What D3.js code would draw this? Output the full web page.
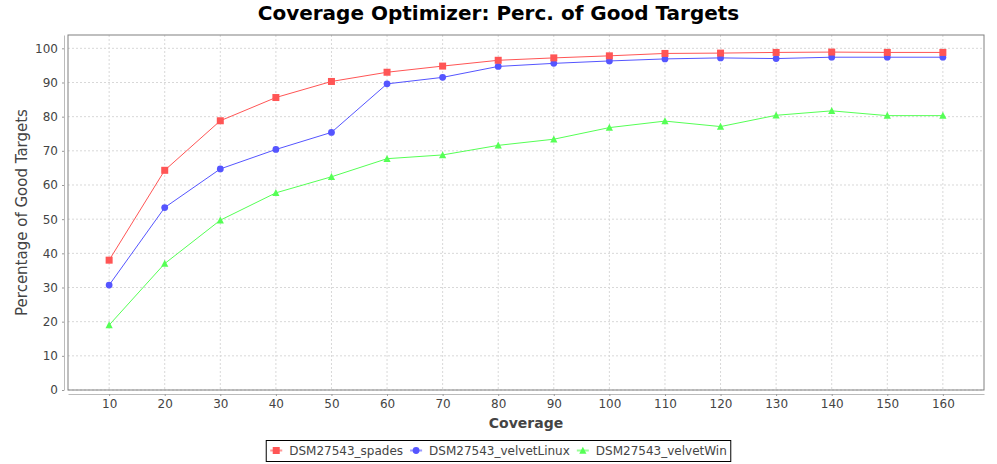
<!DOCTYPE html>
<html>
<head>
<meta charset="utf-8">
<script src="https://cdn.jsdelivr.net/npm/d3@7"></script>
<style>
  body { margin: 0; background: #fff; }
  text { font-family: "DejaVu Sans", sans-serif; }
</style>
</head>
<body>
<svg id="chart"></svg>
<script>
// chart values
const coverage = [10, 20, 30, 40, 50, 60, 70, 80, 90, 100, 110, 120, 130, 140, 150, 160];
const spades = [38.0, 64.3, 78.8, 85.6, 90.3, 93.0, 94.8, 96.5, 97.2, 97.8, 98.5, 98.6, 98.8, 98.9, 98.8, 98.8];
const velvetLinux = [30.7, 53.4, 64.7, 70.4, 75.4, 89.6, 91.5, 94.7, 95.6, 96.3, 96.9, 97.2, 97.0, 97.4, 97.4, 97.4];
const velvetWin = [19.0, 37.0, 49.7, 57.7, 62.4, 67.7, 68.8, 71.6, 73.4, 76.8, 78.7, 77.1, 80.4, 81.7, 80.3, 80.3];
const series_names = ["DSM27543_spades", "DSM27543_velvetLinux", "DSM27543_velvetWin"];
const y_ticks = [0, 10, 20, 30, 40, 50, 60, 70, 80, 90, 100];

const series = [
  {name: series_names[0], values: spades, color: "#ff5555", shape: "square"},
  {name: series_names[1], values: velvetLinux, color: "#5555ff", shape: "circle"},
  {name: series_names[2], values: velvetWin, color: "#55ff55", shape: "triangle"}
];

const W = 997, H = 464;
const plot = {left: 68, top: 35, right: 984, bottom: 390};

const svg = d3.select("#chart")
  .attr("width", W)
  .attr("height", H)
  .style("background", "#fff");

// scales (small margin on both sides of the x range, like the original)
const x = d3.scaleLinear()
  .domain([2.6, 167.4])
  .range([plot.left, plot.right]);
const y = d3.scaleLinear()
  .domain([0, 103.9])
  .range([plot.bottom, plot.top]);

// title
svg.append("text")
  .attr("x", W / 2)
  .attr("y", 20)
  .attr("text-anchor", "middle")
  .style("font-size", "20px")
  .style("font-weight", "bold")
  .text("Coverage Optimizer: Perc. of Good Targets");

// grid lines
const grid = svg.append("g").attr("stroke", "#d8d8d8").attr("stroke-dasharray", "2,2");
grid.selectAll(".gx").data(coverage).join("line")
  .attr("x1", d => x(d)).attr("x2", d => x(d))
  .attr("y1", plot.top).attr("y2", plot.bottom);
grid.selectAll(".gy").data(y_ticks).join("line")
  .attr("x1", plot.left).attr("x2", plot.right)
  .attr("y1", d => y(d)).attr("y2", d => y(d));

// plot outline
svg.append("rect")
  .attr("x", plot.left)
  .attr("y", plot.top)
  .attr("width", plot.right - plot.left)
  .attr("height", plot.bottom - plot.top)
  .attr("fill", "none")
  .attr("stroke", "#808080");

// axes, drawn 4px away from the plot
const xAxis = svg.append("g")
  .attr("transform", `translate(0, ${plot.bottom + 4})`)
  .call(d3.axisBottom(x).tickValues(coverage).tickSize(2).tickSizeOuter(0).tickPadding(3));
const yAxis = svg.append("g")
  .attr("transform", `translate(${plot.left - 4}, 0)`)
  .call(d3.axisLeft(y).tickValues(y_ticks).tickSize(2).tickSizeOuter(0).tickPadding(4));

[xAxis, yAxis].forEach(a => {
  a.select(".domain").attr("stroke", "#bbbbbb");
  a.selectAll(".tick line").attr("stroke", "#999999");
  a.selectAll(".tick text")
    .attr("fill", "#444444")
    .style("font-size", "12px")
    .style("font-family", "DejaVu Sans, sans-serif");
});

// axis labels
svg.append("text")
  .attr("x", (plot.left + plot.right) / 2)
  .attr("y", 428)
  .attr("text-anchor", "middle")
  .attr("fill", "#444444")
  .style("font-size", "14px")
  .style("font-weight", "bold")
  .text("Coverage");

svg.append("text")
  .attr("transform", `translate(27, ${(plot.top + plot.bottom) / 2}) rotate(-90)`)
  .attr("text-anchor", "middle")
  .attr("fill", "#444444")
  .style("font-size", "15px")
  .text("Percentage of Good Targets");

// marker shapes
function marker(g, shape, color) {
  if (shape === "square") {
    g.append("rect").attr("x", -3.5).attr("y", -3.5).attr("width", 7).attr("height", 7).attr("fill", color);
  } else if (shape === "circle") {
    g.append("circle").attr("r", 3.4).attr("fill", color);
  } else {
    g.append("path").attr("d", "M0,-3.8L3.6,3.2L-3.6,3.2Z").attr("fill", color);
  }
}

const line = d3.line()
  .x((d, i) => x(coverage[i]))
  .y(d => y(d));

// last series first so the first one ends up on top
series.slice().reverse().forEach(s => {
  svg.append("path")
    .datum(s.values)
    .attr("fill", "none")
    .attr("stroke", s.color)
    .attr("stroke-width", 1)
    .attr("d", line);

  s.values.forEach((v, i) => {
    const g = svg.append("g").attr("transform", `translate(${x(coverage[i])}, ${y(v)})`);
    marker(g, s.shape, s.color);
  });
});

// legend
const legend = svg.append("g");
const legend_box = legend.append("rect")
  .attr("fill", "#fff")
  .attr("stroke", "#000");
let lx = 0;
series.forEach(s => {
  const item = legend.append("g").attr("transform", `translate(${lx}, 0)`);
  item.append("line")
    .attr("x1", 2).attr("x2", 14)
    .attr("y1", 0).attr("y2", 0)
    .attr("stroke", s.color)
    .attr("stroke-width", 2)
    .attr("opacity", 0.6);
  marker(item.append("g").attr("transform", "translate(8, 0)"), s.shape, s.color);
  const t = item.append("text")
    .attr("x", 21)
    .attr("y", 4.5)
    .attr("fill", "#444444")
    .style("font-size", "12px")
    .text(s.name);
  lx += 21 + t.node().getComputedTextLength() + 5;
});
const legend_w = lx + 1;
legend_box
  .attr("x", -2)
  .attr("y", -10)
  .attr("width", legend_w)
  .attr("height", 21);
legend.attr("transform", `translate(${498.5 - legend_w / 2 + 2}, 450.5)`);
</script>
</body>
</html>
